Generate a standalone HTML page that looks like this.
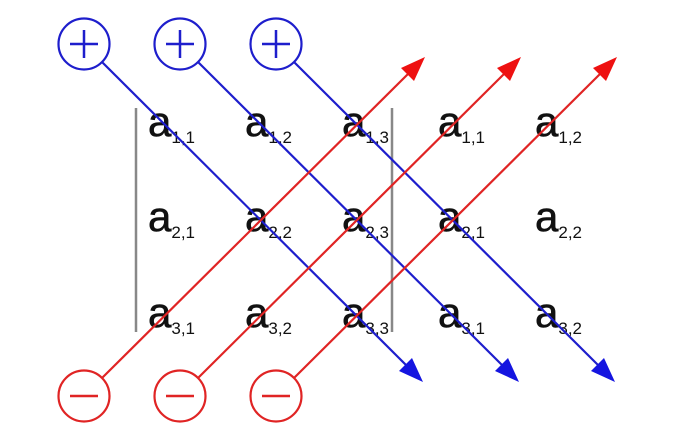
<!DOCTYPE html>
<html><head><meta charset="utf-8"><style>
html,body{margin:0;padding:0;background:#fff;}
svg{display:block}
.a{font-family:"Liberation Sans",sans-serif;font-size:42px;fill:#111;stroke:#111;stroke-width:0.6}
.s{font-size:17px;stroke-width:0}
</style></head><body>
<svg width="696" height="435" viewBox="0 0 696 435" xmlns="http://www.w3.org/2000/svg">
<g stroke="#888" stroke-width="2.5">
<line x1="136" y1="108" x2="136" y2="332"/>
<line x1="392" y1="108" x2="392" y2="332"/>
</g>
<g class="a">
<text x="148" y="136">a<tspan class="s" dy="7">1,1</tspan></text>
<text x="245" y="136">a<tspan class="s" dy="7">1,2</tspan></text>
<text x="342" y="136">a<tspan class="s" dy="7">1,3</tspan></text>
<text x="438" y="136">a<tspan class="s" dy="7">1,1</tspan></text>
<text x="535" y="136">a<tspan class="s" dy="7">1,2</tspan></text>
<text x="148" y="231">a<tspan class="s" dy="7">2,1</tspan></text>
<text x="245" y="231">a<tspan class="s" dy="7">2,2</tspan></text>
<text x="342" y="231">a<tspan class="s" dy="7">2,3</tspan></text>
<text x="438" y="231">a<tspan class="s" dy="7">2,1</tspan></text>
<text x="535" y="231">a<tspan class="s" dy="7">2,2</tspan></text>
<text x="148" y="327">a<tspan class="s" dy="7">3,1</tspan></text>
<text x="245" y="327">a<tspan class="s" dy="7">3,2</tspan></text>
<text x="342" y="327">a<tspan class="s" dy="7">3,3</tspan></text>
<text x="438" y="327">a<tspan class="s" dy="7">3,1</tspan></text>
<text x="535" y="327">a<tspan class="s" dy="7">3,2</tspan></text>
</g>
<g stroke="#1e1ecc" stroke-width="2.2" fill="none">
<circle cx="84" cy="44" r="25.5"/><circle cx="180" cy="44" r="25.5"/><circle cx="276" cy="44" r="25.5"/>
<path d="M70,44h28M84,30v28M166,44h28M180,30v28M262,44h28M276,30v28" stroke-width="2.5"/>
<line x1="102" y1="62" x2="408" y2="367"/>
<line x1="198" y1="62" x2="504" y2="367"/>
<line x1="294" y1="62" x2="600" y2="367"/>
</g>
<g fill="#1515e0">
<path d="M423,382 L399,371 L412,358 z"/>
<path d="M519,382 L495,371 L508,358 z"/>
<path d="M615,382 L591,371 L604,358 z"/>
</g>
<g stroke="#e02424" stroke-width="2.2" fill="none">
<circle cx="84" cy="396" r="25.5"/><circle cx="180" cy="396" r="25.5"/><circle cx="276" cy="396" r="25.5"/>
<path d="M70,396h28M166,396h28M262,396h28" stroke-width="2.5"/>
<line x1="102" y1="378" x2="410" y2="72"/>
<line x1="198" y1="378" x2="506" y2="72"/>
<line x1="294" y1="378" x2="602" y2="72"/>
</g>
<g fill="#ee1111">
<path d="M425,57 L414,81 L401,68 z"/>
<path d="M521,57 L510,81 L497,68 z"/>
<path d="M617,57 L606,81 L593,68 z"/>
</g>
</svg>
</body></html>
